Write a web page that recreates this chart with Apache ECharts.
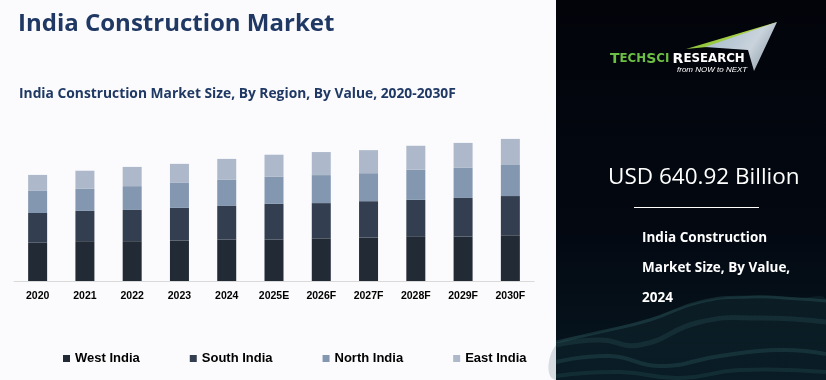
<!DOCTYPE html>
<html>
<head>
<meta charset="utf-8">
<script src="https://cdn.jsdelivr.net/npm/echarts@6/dist/echarts.min.js"></script>
<style>
html,body{margin:0;padding:0;background:#fbfbfd;}
#c{width:826px;height:380px;}
</style>
</head>
<body>
<div id="c"></div>
<script>
// Data (USD Billion)
const years = ['2020','2021','2022','2023','2024','2025E','2026F','2027F','2028F','2029F','2030F'];
const westIndia  = [201, 209, 209, 212, 217, 217, 224, 228, 235, 233, 240];
const southIndia = [156, 159, 164, 172, 177, 188, 185, 191, 191, 203, 206];
const northIndia = [116, 116, 125, 131, 137, 142, 147, 147, 158, 158, 163];
const eastIndia  = [ 84,  95, 101, 100, 110, 116, 121, 121, 126, 131, 137];
const seriesNames = ['West India','South India','North India','East India'];
const seriesColors = ['#222a35','#333f50','#8497b0','#adb9ca'];

const chart = echarts.init(document.getElementById('c'), null, {renderer:'canvas'});
const values = [westIndia, southIndia, northIndia, eastIndia];

const panelX = 556;
const option = {
  backgroundColor: '#fbfbfd',
  animation: false,
  title: [
    {text: 'India Construction Market', left: 18, top: 12, padding: 0,
     textStyle:{fontFamily:'Open Sans', fontWeight:'bold', fontSize:24, color:'#1f3864'}},
    {text: 'India Construction Market Size, By Region, By Value, 2020-2030F', left: 19, top: 87, padding: 0,
     textStyle:{fontFamily:'Open Sans', fontWeight:'bold', fontSize:13.8, color:'#1f3864'}}
  ],
  grid: {left: 14, right: 292, top: 121, bottom: 99, containLabel: false, outerBoundsMode: 'none'},
  xAxis: {
    type: 'category', data: years,
    axisLine: {lineStyle: {color: '#d9d9d9', width: 1}},
    axisTick: {show: false},
    axisLabel: {color: '#000', fontWeight: 'bold', fontFamily: 'Liberation Sans', fontSize: 10.5, margin: 10, interval: 0}
  },
  yAxis: {type: 'value', min: 0, max: 840, show: false, splitLine: {show: false}},
  legend: {
    data: seriesNames, left: 63, top: 352, padding: 0, icon: 'rect', itemWidth: 7, itemHeight: 7, itemGap: 50,
    textStyle: {fontFamily: 'Liberation Sans', fontWeight: 'bold', fontSize: 13, color: '#000'}
  },
  series: seriesNames.map((n, i) => ({
    name: n, type: 'bar', stack: 'total', barWidth: 19, data: values[i],
    itemStyle: {color: seriesColors[i]}
  })),
  graphic: [
    {type:'rect', shape:{x:panelX, y:0, width:826-panelX, height:380}, z:-1,
     style:{fill:{type:'linear', x:0, y:0, x2:0, y2:1, colorStops:[
       {offset:0, color:'#02040a'},{offset:0.6, color:'#030811'},{offset:1, color:'#071720'}]}}},
    // decorative waves
    {type:'polygon', shape:{points:[[556,345],[600,332],[650,318],[700,302],[750,296],[800,298],[826,300],[826,380],[556,380]], smooth:0.4},
     style:{fill:{type:'linear', x:0, y:0, x2:0, y2:1, colorStops:[{offset:0,color:'rgba(40,90,95,0.18)'},{offset:1,color:'rgba(20,50,60,0.15)'}]}}},
    {type:'polyline', shape:{points:[[556,342],[600,332],[650,320],[700,302],[750,297],[800,299],[826,301]], smooth:0.5},
     style:{stroke:'rgba(80,150,150,0.2)', lineWidth:3, fill:null}},
    {type:'polyline', shape:{points:[[556,345],[600,340],[640,345],[700,322],[760,318],[826,322]], smooth:0.5},
     style:{stroke:'rgba(80,150,150,0.15)', lineWidth:5, fill:null}},
    {type:'polyline', shape:{points:[[556,362],[610,356],[660,366],[720,356],[780,350],[826,354]], smooth:0.5},
     style:{stroke:'rgba(80,150,150,0.18)', lineWidth:4, fill:null}},
    {type:'polyline', shape:{points:[[556,376],[620,372],[680,378],[740,370],[826,372]], smooth:0.5},
     style:{stroke:'rgba(80,150,150,0.14)', lineWidth:4, fill:null}},
    // logo triangle
    {type:'polygon', shape:{points:[[686,49],[777,22],[738,44]]},
     style:{fill:{type:'linear', x:0, y:0, x2:1, y2:0, colorStops:[{offset:0,color:'#8fc43c'},{offset:1,color:'#b5d84a'}]}}},
    {type:'polygon', shape:{points:[[705,47],[777,22],[754,71],[748,50]]},
     style:{fill:{type:'linear', x:0, y:0, x2:1, y2:1, colorStops:[{offset:0,color:'#9fb6c9'},{offset:0.6,color:'#c9d3dc'},{offset:1,color:'#7d8d99'}]}}},
    {type:'text', x:610, y:59, z:10, style:{
      text:'{g1|T}{g2|ECH}{g1|S}{g2|CI} {w1|R}{w2|ESEARCH}', verticalAlign:'middle',
      rich:{
        g1:{fontFamily:'DejaVu Sans', fontWeight:'bold', fontSize:14, fill:'#6cbf45'},
        g2:{fontFamily:'DejaVu Sans', fontWeight:'bold', fontSize:11.8, fill:'#6cbf45'},
        w1:{fontFamily:'DejaVu Sans', fontWeight:'bold', fontSize:14, fill:'#ffffff'},
        w2:{fontFamily:'DejaVu Sans', fontWeight:'bold', fontSize:11.8, fill:'#ffffff'}
      }}},
    {type:'text', x:677, y:70, z:10, style:{text:'from NOW to NEXT', fontFamily:'Liberation Sans', fontStyle:'italic', fontSize:8, fill:'#ffffff', verticalAlign:'middle'}},
    {type:'text', x:608, y:178, style:{text:'USD 640.92 Billion', fontFamily:'Open Sans', fontSize:22.5, fill:'#ffffff', verticalAlign:'middle'}},
    {type:'line', shape:{x1:634, y1:207.5, x2:759, y2:207.5}, style:{stroke:'#ffffff', lineWidth:1}},
    {type:'text', x:642, y:238, style:{text:'India Construction', fontFamily:'Open Sans', fontWeight:'bold', fontSize:13.5, fill:'#ffffff', verticalAlign:'middle'}},
    {type:'text', x:642, y:268, style:{text:'Market Size, By Value,', fontFamily:'Open Sans', fontWeight:'bold', fontSize:13.5, fill:'#ffffff', verticalAlign:'middle'}},
    {type:'text', x:642, y:298, style:{text:'2024', fontFamily:'Open Sans', fontWeight:'bold', fontSize:13.5, fill:'#ffffff', verticalAlign:'middle'}}
  ]
};
chart.setOption(option);
</script>
</body>
</html>
